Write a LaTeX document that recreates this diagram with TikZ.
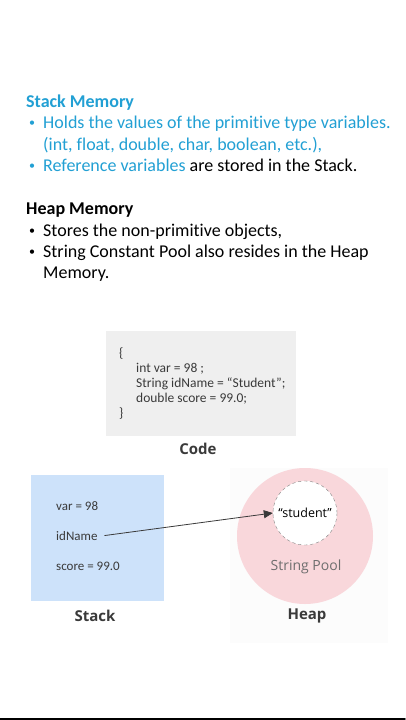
\documentclass[tikz,border=0pt]{standalone}
\usepackage{fontspec}
\setmainfont[Ligatures={NoCommon}]{Carlito}
\newfontfamily\labelfont{Open Sans}
\usetikzlibrary{arrows.meta}
\definecolor{headblue}{HTML}{22A0D4}
\definecolor{codegray}{HTML}{EFEFEF}
\definecolor{stackblue}{HTML}{CDE2FA}
\definecolor{poolpink}{HTML}{F9D7DB}
\definecolor{darktext}{HTML}{3A3A3A}
\definecolor{pooltext}{HTML}{6E6E6E}
\newcommand{\dotmark}{\raisebox{1.6pt}{\fontsize{12}{12}\selectfont\textbullet}}
\begin{document}
\begin{tikzpicture}[x=1pt,y=-1pt,>={Triangle[length=9pt,width=8pt]}, line join=round, line cap=round,
    line/.style={anchor=base west,inner sep=0pt,font=\fontsize{18}{21}\selectfont},
    code/.style={anchor=base west,inner sep=0pt,font=\fontsize{13.5}{15}\selectfont,text=darktext},
    var/.style={anchor=base west,inner sep=0pt,font=\fontsize{13}{15}\selectfont,text=darktext},
    caption/.style={inner sep=0pt,font=\labelfont\bfseries\fontsize{15}{17}\selectfont,text=darktext}]
    \useasboundingbox (0,0) rectangle (405,720);
    \fill[white] (0,0) rectangle (405,720);
    \node[line,text=headblue,font=\fontsize{18}{21}\selectfont\bfseries] (stackhead) at (26,107) {Stack Memory};
    \node[line,text=headblue] (b1) at (29,128) {\dotmark};
    \node[line,text=headblue] (holds) at (43,128) {Holds the values of the primitive type variables.};
    \node[line,text=headblue] (types) at (43,150) {(int, float, double, char, boolean, etc.),};
    \node[line,text=headblue] (b2) at (29,171) {\dotmark};
    \node[line] (refvars) at (43,171) {\textcolor{headblue}{Reference variables} are stored in the Stack.};
    \node[line,font=\fontsize{18}{21}\selectfont\bfseries] (heaphead) at (26,214) {Heap Memory};
    \node[line] (b3) at (29,236) {\dotmark};
    \node[line] (stores) at (43,236) {Stores the non-primitive objects,};
    \node[line] (b4) at (29,257) {\dotmark};
    \node[line] (scp) at (43,257) {String Constant Pool also resides in the Heap};
    \node[line] (scp2) at (43,278) {Memory.};
    \fill[codegray] (106,331) rectangle (296,436);
    \node[code] (open) at (119,357) {\{};
    \node[code] (l1) at (136,372) {int var = 98 ;};
    \node[code] (l2) at (136,387) {String idName = “Student”;};
    \node[code] (l3) at (136,402) {double score = 99.0;};
    \node[code] (close) at (119,417) {\}};
    \node[caption] (codecap) at (198,449) {Code};
    \fill[stackblue] (31,475) rectangle (164,601);
    \node[var] (v1) at (56,510) {var = 98};
    \node[var] (v2) at (56,540) {idName};
    \node[var] (v3) at (56,570) {score = 99.0};
    \node[caption] (stackcap) at (95,616) {Stack};
    \fill[gray!2] (230,468) rectangle (388,643);
    \fill[poolpink] (305,536) circle (68);
    \node[circle,draw=gray,dashed,fill=white,minimum size=64pt,inner sep=0pt,
          font=\labelfont\fontsize{12.5}{14}\selectfont,text=black] (student) at (305,513) {“student”};
    \node[inner sep=0pt,font=\labelfont\fontsize{14}{16}\selectfont,text=pooltext] (pool) at (306,567) {String Pool};
    \node[caption] (heapcap) at (307,616) {Heap};
    \coordinate (tail) at ([xshift=7pt]v2.east);
    \draw[->,darktext,thick] (tail) -- (student.west);
    \draw[black,line width=1.6] (0,719) -- (405,719);
\end{tikzpicture}
\end{document}
